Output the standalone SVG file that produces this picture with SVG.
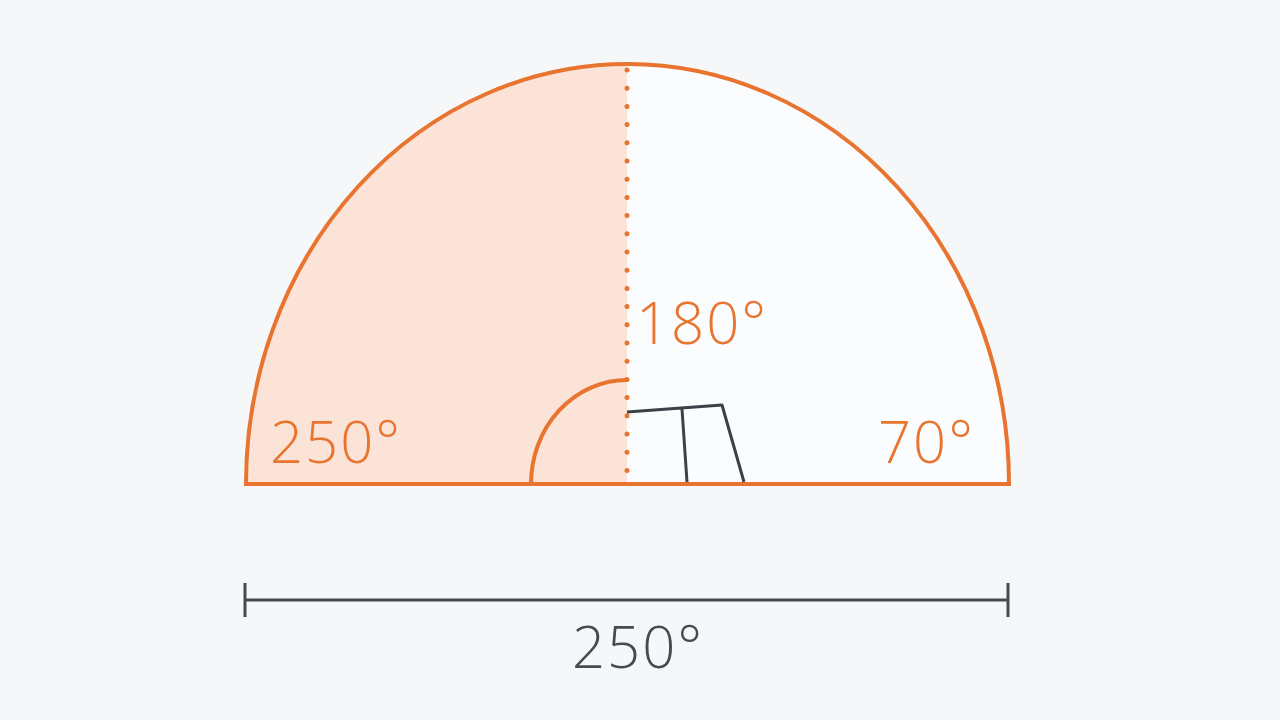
<svg xmlns="http://www.w3.org/2000/svg" width="1280" height="720" viewBox="0 0 1280 720">
<style>
.o{fill:none;stroke:#e8742f;stroke-width:4}
.d{fill:none;stroke:#3c4148;stroke-width:3;stroke-linejoin:round}
.t{font-family:"Open Sans","Liberation Sans",sans-serif;font-size:58px;font-weight:300;letter-spacing:2px;fill:#e8742f}
.g{font-family:"Open Sans","Liberation Sans",sans-serif;font-size:58px;font-weight:300;letter-spacing:2px;fill:#474b50}
</style>
<rect width="1280" height="720" fill="#f5f7f9"/>
<g id="shape">
<path d="M246,484 A381,420 0 0 1 627,64 L627,484 Z" fill="#fbe4d7"/>
<path d="M627,64 A382,420 0 0 1 1009,484 L627,484 Z" fill="#fbfcfd"/>
<line x1="627" y1="70" x2="627" y2="480" stroke="#e8742f" stroke-width="5" stroke-linecap="round" stroke-dasharray="0 18.2"/>
<path class="o" d="M246,484 A381.5,420 0 0 1 1009,484 Z"/>
<path class="o" d="M531,484 A96,104 0 0 1 627,380"/>
<path class="d" d="M627,412 L722,405 L744,482 M682,409 L687,482"/>
</g>
<g id="labels">
<text class="t" x="270" y="463">250°</text>
<text class="t" x="878" y="463">70°</text>
<text class="t" x="636" y="344">180°</text>
</g>
<g id="dimension">
<path d="M245,600 H1008 M245,583 V617 M1008,583 V617" fill="none" stroke="#474b50" stroke-width="3"/>
<text class="g" x="638" y="668" text-anchor="middle">250°</text>
</g>
</svg>
